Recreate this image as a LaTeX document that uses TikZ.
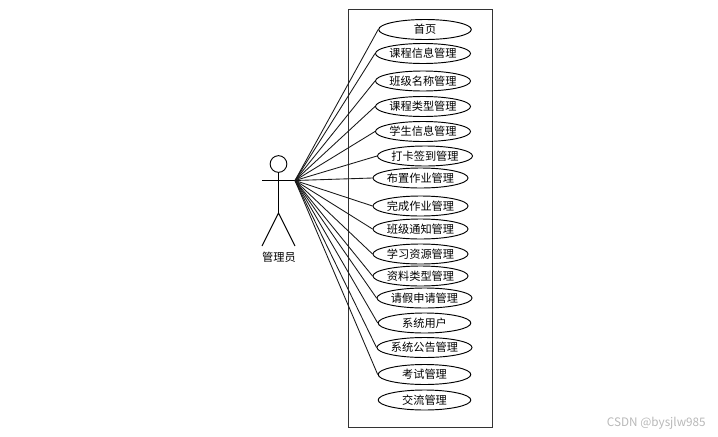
\documentclass[tikz,border=0pt]{standalone}
\usepackage{fontspec}
\setmainfont{Noto Sans CJK SC}
\usetikzlibrary{shapes.geometric}
\tikzset{
    ucNode/.style={ellipse, draw=black, fill=white, line width=0.7pt, inner sep=0pt, minimum width=69.5pt, minimum height=15pt, font=\fontsize{8.4}{10}\selectfont},
    ucLink/.style={line width=0.65pt, black!90},
    actorLine/.style={line width=0.7pt, black}
}

\begin{document}
\begin{tikzpicture}[x=0.75pt, y=-0.75pt]
    \useasboundingbox (0,0) rectangle (718,436);
    % --- System frame ---
    \node[draw=black!80, line width=0.65pt, minimum width=108pt, minimum height=313.5pt, inner sep=0pt] (sysFrame) at (420,218) {};
    % --- Actor ---
    \node[circle, draw=black, fill=white, line width=0.7pt, inner sep=0pt, minimum size=12.5pt] (actorHead) at (278.5,164) {};
    \coordinate (actorHip) at (278.5,213);
    \coordinate (handL) at (262,180.5); \coordinate (handR) at (295,180.5);
    \coordinate (footL) at (262,246); \coordinate (footR) at (295,246);
    \draw[actorLine] (actorHead)--(actorHip);
    \draw[actorLine] (handL)--(handR);
    \draw[actorLine] (footL)--(actorHip)--(footR);
    \node[font=\fontsize{8.4}{10}\selectfont, inner sep=0pt] (actorName) at (279,257) {管理员};
    % --- Use cases ---
    \node[ucNode] (ucHome) at (425,29.5) {首页};
    \node[ucNode] (ucCourse) at (423,53.5) {课程信息管理};
    \node[ucNode] (ucClass) at (423,81) {班级名称管理};
    \node[ucNode] (ucType) at (423,106.5) {课程类型管理};
    \node[ucNode] (ucStudent) at (423,131.5) {学生信息管理};
    \node[ucNode] (ucCheck) at (425,156) {打卡签到管理};
    \node[ucNode] (ucAssign) at (420.5,178) {布置作业管理};
    \node[ucNode] (ucDone) at (420.5,206) {完成作业管理};
    \node[ucNode] (ucNotice) at (420.5,229) {班级通知管理};
    \node[ucNode] (ucStudy) at (420.5,254) {学习资源管理};
    \node[ucNode] (ucData) at (420.5,276) {资料类型管理};
    \node[ucNode] (ucLeave) at (424.5,298) {请假申请管理};
    \node[ucNode] (ucUser) at (424.5,323) {系统用户};
    \node[ucNode] (ucBoard) at (424.5,347.5) {系统公告管理};
    \node[ucNode] (ucExam) at (424.5,374.5) {考试管理};
    \node[ucNode] (ucTalk) at (424.5,400) {交流管理};
    % --- Links ---
    \draw[ucLink] (handR)--(ucHome.west);
    \draw[ucLink] (handR)--(ucCourse.west);
    \draw[ucLink] (handR)--(ucClass.west);
    \draw[ucLink] (handR)--(ucType.west);
    \draw[ucLink] (handR)--(ucStudent.west);
    \draw[ucLink] (handR)--(ucCheck.west);
    \draw[ucLink] (handR)--(ucAssign.west);
    \draw[ucLink] (handR)--(ucDone.west);
    \draw[ucLink] (handR)--(ucNotice.west);
    \draw[ucLink] (handR)--(ucStudy.west);
    \draw[ucLink] (handR)--(ucData.west);
    \draw[ucLink] (handR)--(ucLeave.west);
    \draw[ucLink] (handR)--(ucUser.west);
    \draw[ucLink] (handR)--(ucBoard.west);
    \draw[ucLink] (handR)--(ucExam.west);
    % --- Watermark ---
    \node[anchor=east, inner sep=0pt, text=black!28, font=\fontsize{8.8}{10}\selectfont] (markText) at (706,423) {CSDN @bysjlw985};
\end{tikzpicture}
\end{document}
